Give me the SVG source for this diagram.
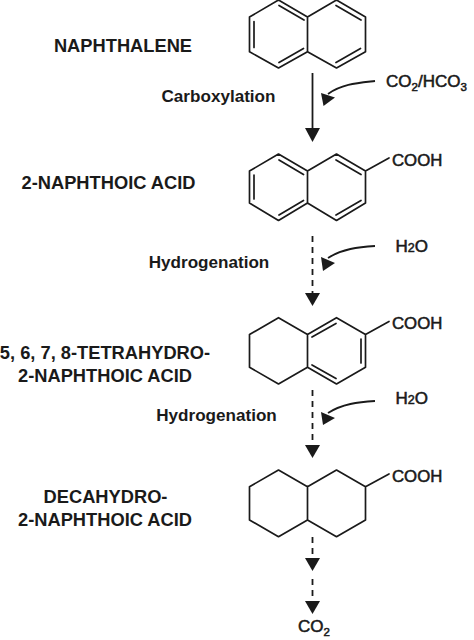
<svg xmlns="http://www.w3.org/2000/svg" width="474" height="640" viewBox="0 0 474 640">
<defs>
<style>
text{font-family:"Liberation Sans",Arial,sans-serif;font-weight:bold;fill:#1a1a1a;font-size:18.3px}
.f{font-weight:normal;font-size:16.8px;stroke:#1a1a1a;stroke-width:.55px}
.l{font-size:17.1px}
.s{font-size:17px;font-weight:normal;stroke:#1a1a1a;stroke-width:.55px}
.m{text-anchor:middle}
.b{fill:none;stroke:#1a1a1a;stroke-width:1.7;stroke-linejoin:round;stroke-linecap:round}
.c{fill:none;stroke:#1a1a1a;stroke-width:1.8}
.d{stroke-dasharray:6 5}
.h{fill:#1a1a1a}
</style>
</defs>
<rect width="474" height="640" fill="#fff"/>
<g id="naphthalene"><path class="b" d="M249.5 17L278.5 0L307.5 17L336.5 0L365.5 17V51.7L336.5 68L307.5 51.7L278.5 68L249.5 51.7ZM307.5 17V51.7M251 17M254 21.5V47.5M279 5.5L304 20M279 62.5L303.5 48.5M336 5.5L361 20M336 62.5L360.5 48.5"/><text x="123" y="52" class="m">NAPHTHALENE</text></g>
<g id="acid2"><path class="b" d="M249.5 171L278.5 154L307.5 171L336.5 154L365.5 171V203L336.5 220.5L307.5 203L278.5 220.5L249.5 203ZM307.5 171V203M254 175V199M279 160L303.5 174.5M279 215L303.5 200.5M336 160L361 174.5M336 215L361 200.5M365.5 171L389 158"/><text x="392" y="166" class="f">COOH</text><text x="108.5" y="189" class="m">2-NAPHTHOIC ACID</text></g>
<g id="tetrahydro"><path class="b" d="M249.5 334.5L278.5 317.7L307.5 334.5L336.5 317.7L365.5 334.5V367.3L336.5 384L307.5 367.3L278.5 384L249.5 367.3ZM307.5 334.5V367.3M312 337L336 323.5M312 365L336 378.5M361 339V363M365.5 334.5L389 321.5"/><text x="392" y="329" class="f">COOH</text><text x="105" y="359" class="m">5, 6, 7, 8-TETRAHYDRO-</text><text x="105" y="381.5" class="m">2-NAPHTHOIC ACID</text></g>
<g id="decahydro"><path class="b" d="M249.5 486.7L278.5 470L307.5 486.7L336.5 470L365.5 486.7V520L336.5 536.7L307.5 520L278.5 536.7L249.5 520ZM307.5 486.7V520M365.5 486.7L389 474"/><text x="392" y="482" class="f">COOH</text><text x="105.5" y="503.3" class="m">DECAHYDRO-</text><text x="105" y="525.7" class="m">2-NAPHTHOIC ACID</text></g>
<g id="connectors">
<path class="c" d="M312.5 73V129"/><path class="h" d="M305 128H320L312.5 142Z"/>
<path class="c d" d="M312.5 236V293"/><path class="h" d="M305 293H320L312.5 306Z"/>
<path class="c d" d="M312.5 390V446"/><path class="h" d="M305 445H320L312.5 458Z"/>
<path class="c d" d="M312.5 537V558"/><path class="h" d="M305 558H320L312.5 571Z"/>
<path class="c d" d="M312.5 579V601"/><path class="h" d="M305 601H320L312.5 614Z"/>
<path class="c" d="M375 81C358 83 342 84 328 94"/><path class="h" d="M321 93L335 97.5L323.5 106Z"/>
<path class="c" d="M375 246C358 247 342 249 328 258"/><path class="h" d="M321 257L335 263L323 271Z"/>
<path class="c" d="M375 401C358 402 342 404 328 413"/><path class="h" d="M321 412L335 418L323 425Z"/>
</g>
<g id="labels">
<text x="218.5" y="102" class="m l">Carboxylation</text>
<text x="209" y="267.5" class="m l">Hydrogenation</text>
<text x="216.5" y="421" class="m l">Hydrogenation</text>
<text x="386" y="87" class="s">CO<tspan font-size="11.5" dy="4">2</tspan><tspan dy="-4">/HCO</tspan><tspan font-size="11.5" dy="4">3</tspan></text>
<text x="395.5" y="252" class="s">H<tspan font-size="12.5">2</tspan>O</text>
<text x="395.5" y="404" class="s">H<tspan font-size="12.5">2</tspan>O</text>
<text x="298" y="632" class="s">CO<tspan font-size="11.5" dy="4">2</tspan></text>
</g>
</svg>
